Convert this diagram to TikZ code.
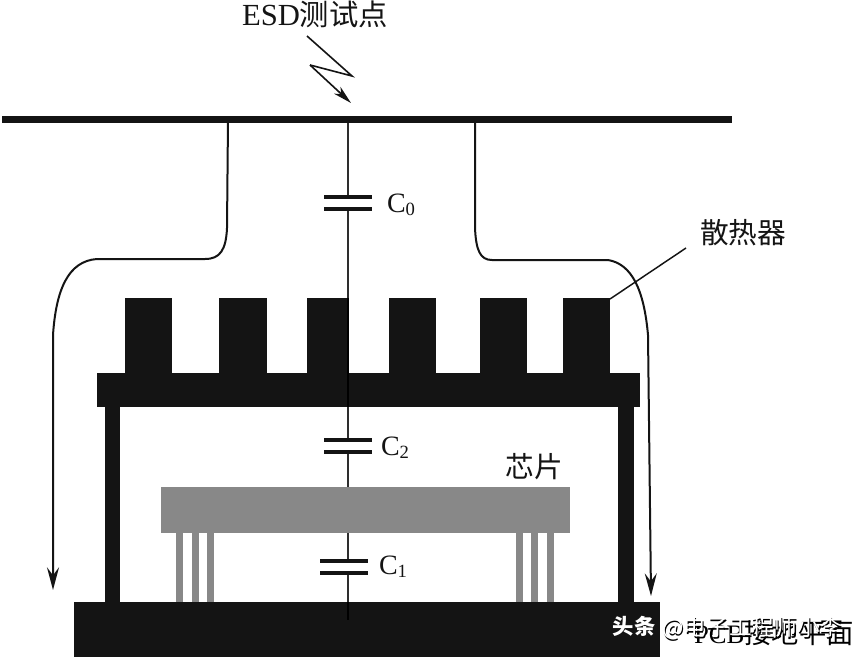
\documentclass[tikz,border=0pt]{standalone}
\usepackage{fontspec}
\setmainfont{Liberation Serif}
\newfontfamily\cjk{Noto Sans CJK SC}
\usetikzlibrary{arrows.meta}
\definecolor{ink}{HTML}{141414}
\definecolor{chipgray}{HTML}{888888}
\definecolor{wiregray}{HTML}{2E2E2E}
\tikzset{
  x=0.75pt,y=-0.75pt,
  wire/.style={draw=wiregray,line width=1.7pt},
  flow/.style={draw=ink,line width=1.5pt,-{Stealth[length=17pt,width=9pt,inset=6pt]}},
  plate/.style={draw=ink,line width=2.6pt},
  lbl/.style={inner sep=0pt,text=ink},
  clabel/.style={inner sep=0pt,text=ink,font=\fontsize{21}{23}\selectfont},
}
\newcommand{\subdigit}[1]{\raisebox{-2.5pt}{\fontsize{14}{15}\selectfont #1}}
\begin{document}
\begin{tikzpicture}
\useasboundingbox (0,0) rectangle (855,657);
\fill[white] (0,0) rectangle (855,657);
% coordinates
\coordinate (busL) at (2,119.5);
\coordinate (busR) at (732,119.5);
\coordinate (busC) at (348,119.5);
\coordinate (busA) at (228,119.5);
\coordinate (busB) at (475,119.5);
\coordinate (wireEnd) at (348,620);
\coordinate (arrowL) at (53,590);
\coordinate (arrowR) at (651,596);
\coordinate (finTip) at (610,299);
\coordinate (leaderEnd) at (686,248);
\coordinate (zA) at (307,36);
\coordinate (zB) at (352,76);
\coordinate (zC) at (310,65);
\coordinate (zD) at (351,103);
% pcb
\fill[ink] (74,602) rectangle (660,657);
% legs
\fill[ink] (105,405) rectangle (120,603);
\fill[ink] (618,405) rectangle (634,603);
% heat sink
\fill[ink] (97,373) rectangle (640,407);
\foreach \a/\b in {125/172,219/267,307/348,389/436,480/527,563/610}
  \fill[ink] (\a,298) rectangle (\b,374);
% pins
\foreach \a in {176,192,207,516,531,547}
  \fill[chipgray] (\a,533) rectangle (\a+6.5,602);
% chip
\fill[chipgray] (161,487) rectangle (570,533);
% centre wire
\draw[wire] (busC) -- (348,197) (348,209) -- (348,298)
            (348,407) -- (348,438) (348,452) -- (348,487)
            (348,533) -- (348,561) (348,572) -- (348,602);
\draw[draw=black,line width=1.7pt] (348,298) -- (348,407) (348,602) -- (wireEnd);
% capacitors
\draw[plate] (324,197) -- (372,197) (324,209) -- (372,209);
\draw[plate] (324,440) -- (372,440) (324,452) -- (372,452);
\draw[plate] (320,561) -- (368,561) (320,573) -- (368,573);
% bus
\draw[draw=ink,line width=4.8pt] (busL) -- (busR);
% current paths
\draw[flow] (busA) -- (227,228) .. controls (226,250) and (220,259) .. (205,259)
  -- (97,259) .. controls (68,261) and (56,290) .. (53,335) -- (arrowL);
\draw[flow] (busB) -- (475,228) .. controls (476,250) and (480,260) .. (492,260)
  -- (608,260) .. controls (632,264) and (644,290) .. (648,335) -- (arrowR);
% lightning
\draw[draw=ink,line width=1.2pt] (zA) -- (zB) -- (zC);
\draw[draw=ink,line width=1.2pt,-{Stealth[length=14pt,width=7pt,inset=4pt]}] (zC) -- (zD);
% leader
\draw[draw=ink,line width=1.1pt] (finTip) -- (leaderEnd);
% labels
\node[lbl,font=\fontsize{23}{25}\selectfont] (esd) at (315,14) {ESD{\cjk\fontsize{22}{24}\selectfont 测试点}};
\node[clabel] (c0) at (401,205) {C\subdigit{0}};
\node[clabel] (c2) at (395,448) {C\subdigit{2}};
\node[clabel] (c1) at (393,567) {C\subdigit{1}};
\node[lbl,font=\cjk\fontsize{21.5}{24}\selectfont] (hs) at (743,233) {散热器};
\node[lbl,font=\cjk\fontsize{21.5}{24}\selectfont] (chip) at (534,467) {芯片};
\node[lbl,text=black,font=\fontsize{20}{22}\selectfont,anchor=east] (pcbtxt) at (854,633) {PCB{\cjk\fontsize{20.5}{22}\selectfont 接地平面}};
\node[inner sep=0pt,text=white,font=\cjk\bfseries\fontsize{16}{18}\selectfont] (wm1) at (634,626) {头条};
\node[inner sep=0pt,text=black,font=\cjk\fontsize{17}{19}\selectfont,anchor=west] (wm2s) at (663,629.5) {@电子工程师小李};
\node[inner sep=0pt,text=white,font=\cjk\fontsize{17}{19}\selectfont,anchor=west] (wm2) at (662,627.5) {@电子工程师小李};
\end{tikzpicture}
\end{document}
